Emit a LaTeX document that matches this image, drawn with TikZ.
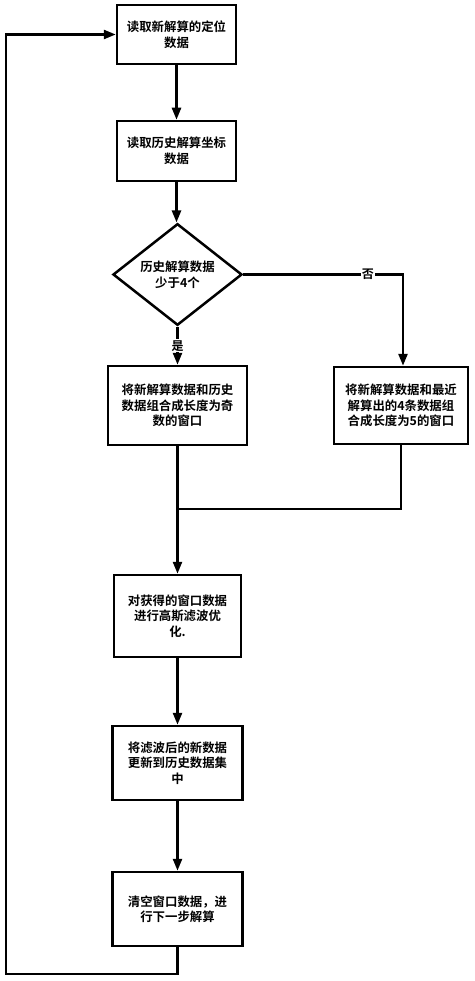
\documentclass[tikz,border=0pt]{standalone}
\usepackage{fontspec}
\newfontfamily\cjk{Noto Sans CJK SC Bold}
\usetikzlibrary{shapes.geometric,arrows.meta}
\begin{document}
\begin{tikzpicture}[x=1pt,y=-1pt,
  stepbox/.style={draw,line width=2.5pt,inner sep=0pt,align=center,font=\cjk\fontsize{12.4}{15.5}\selectfont},
  decide/.style={draw,diamond,line width=2.5pt,inner sep=0pt,align=center,font=\cjk\fontsize{12.4}{15.5}\selectfont},
  flow/.style={line width=2.5pt,-{Triangle[length=12pt,width=9pt]}},
  plain/.style={line width=2.5pt},
  lbl/.style={fill=white,inner sep=1pt,font=\cjk\fontsize{12}{14}\selectfont}]
\useasboundingbox (0,0) rectangle (474,981);
\node[stepbox,minimum width=119pt,minimum height=59pt] (b1) at (176.5,34.5) {读取新解算的定位\\数据};
\node[stepbox,minimum width=119pt,minimum height=60pt] (b2) at (176.5,151) {读取历史解算坐标\\数据};
\node[decide,minimum width=129pt,minimum height=71pt] (d) at (177.5,274.5) {历史解算数据\\少于4个};
\node[stepbox,minimum width=139pt,minimum height=79pt] (bl) at (177.5,405.5) {将新解算数据和历史\\数据组合成长度为奇\\数的窗口};
\node[stepbox,minimum width=134pt,minimum height=77pt] (br) at (401,405.5) {将新解算数据和最近\\解算出的4条数据组\\合成长度为5的窗口};
\node[stepbox,minimum width=127pt,minimum height=82pt] (b4) at (177.5,616) {对获得的窗口数据\\进行高斯滤波优\\化.};
\node[stepbox,minimum width=130pt,minimum height=74pt] (b5) at (177.5,763) {将滤波后的新数据\\更新到历史数据集\\中};
\node[stepbox,minimum width=130pt,minimum height=74pt] (b6) at (177.5,909) {清空窗口数据，进\\行下一步解算};
\coordinate (m) at (177.5,509);
\coordinate (mr) at (401,509);
\coordinate (nr) at (403,274.5);
\coordinate (lb) at (177.5,974);
\coordinate (ll) at (6,974);
\coordinate (lt) at (6,34.5);
\draw[flow] (b1) -- (b2);
\draw[flow] (b2.south) -- (b2.south |- d.north);
\draw[flow] (d) -- node[lbl,pos=0.5]{是} (bl);
\draw[flow] (d.east) -- node[lbl,pos=0.78]{否} (nr) -- (br.north -| nr);
\draw[plain] (br.south) -- (mr) -- (m);
\draw[flow] (bl.south) -- (b4.north);
\draw[flow] (b4) -- (b5);
\draw[flow] (b5) -- (b6);
\draw[flow] (b6.south) -- (lb) -- (ll) -- (lt) -- (b1.west);
\end{tikzpicture}
\end{document}
